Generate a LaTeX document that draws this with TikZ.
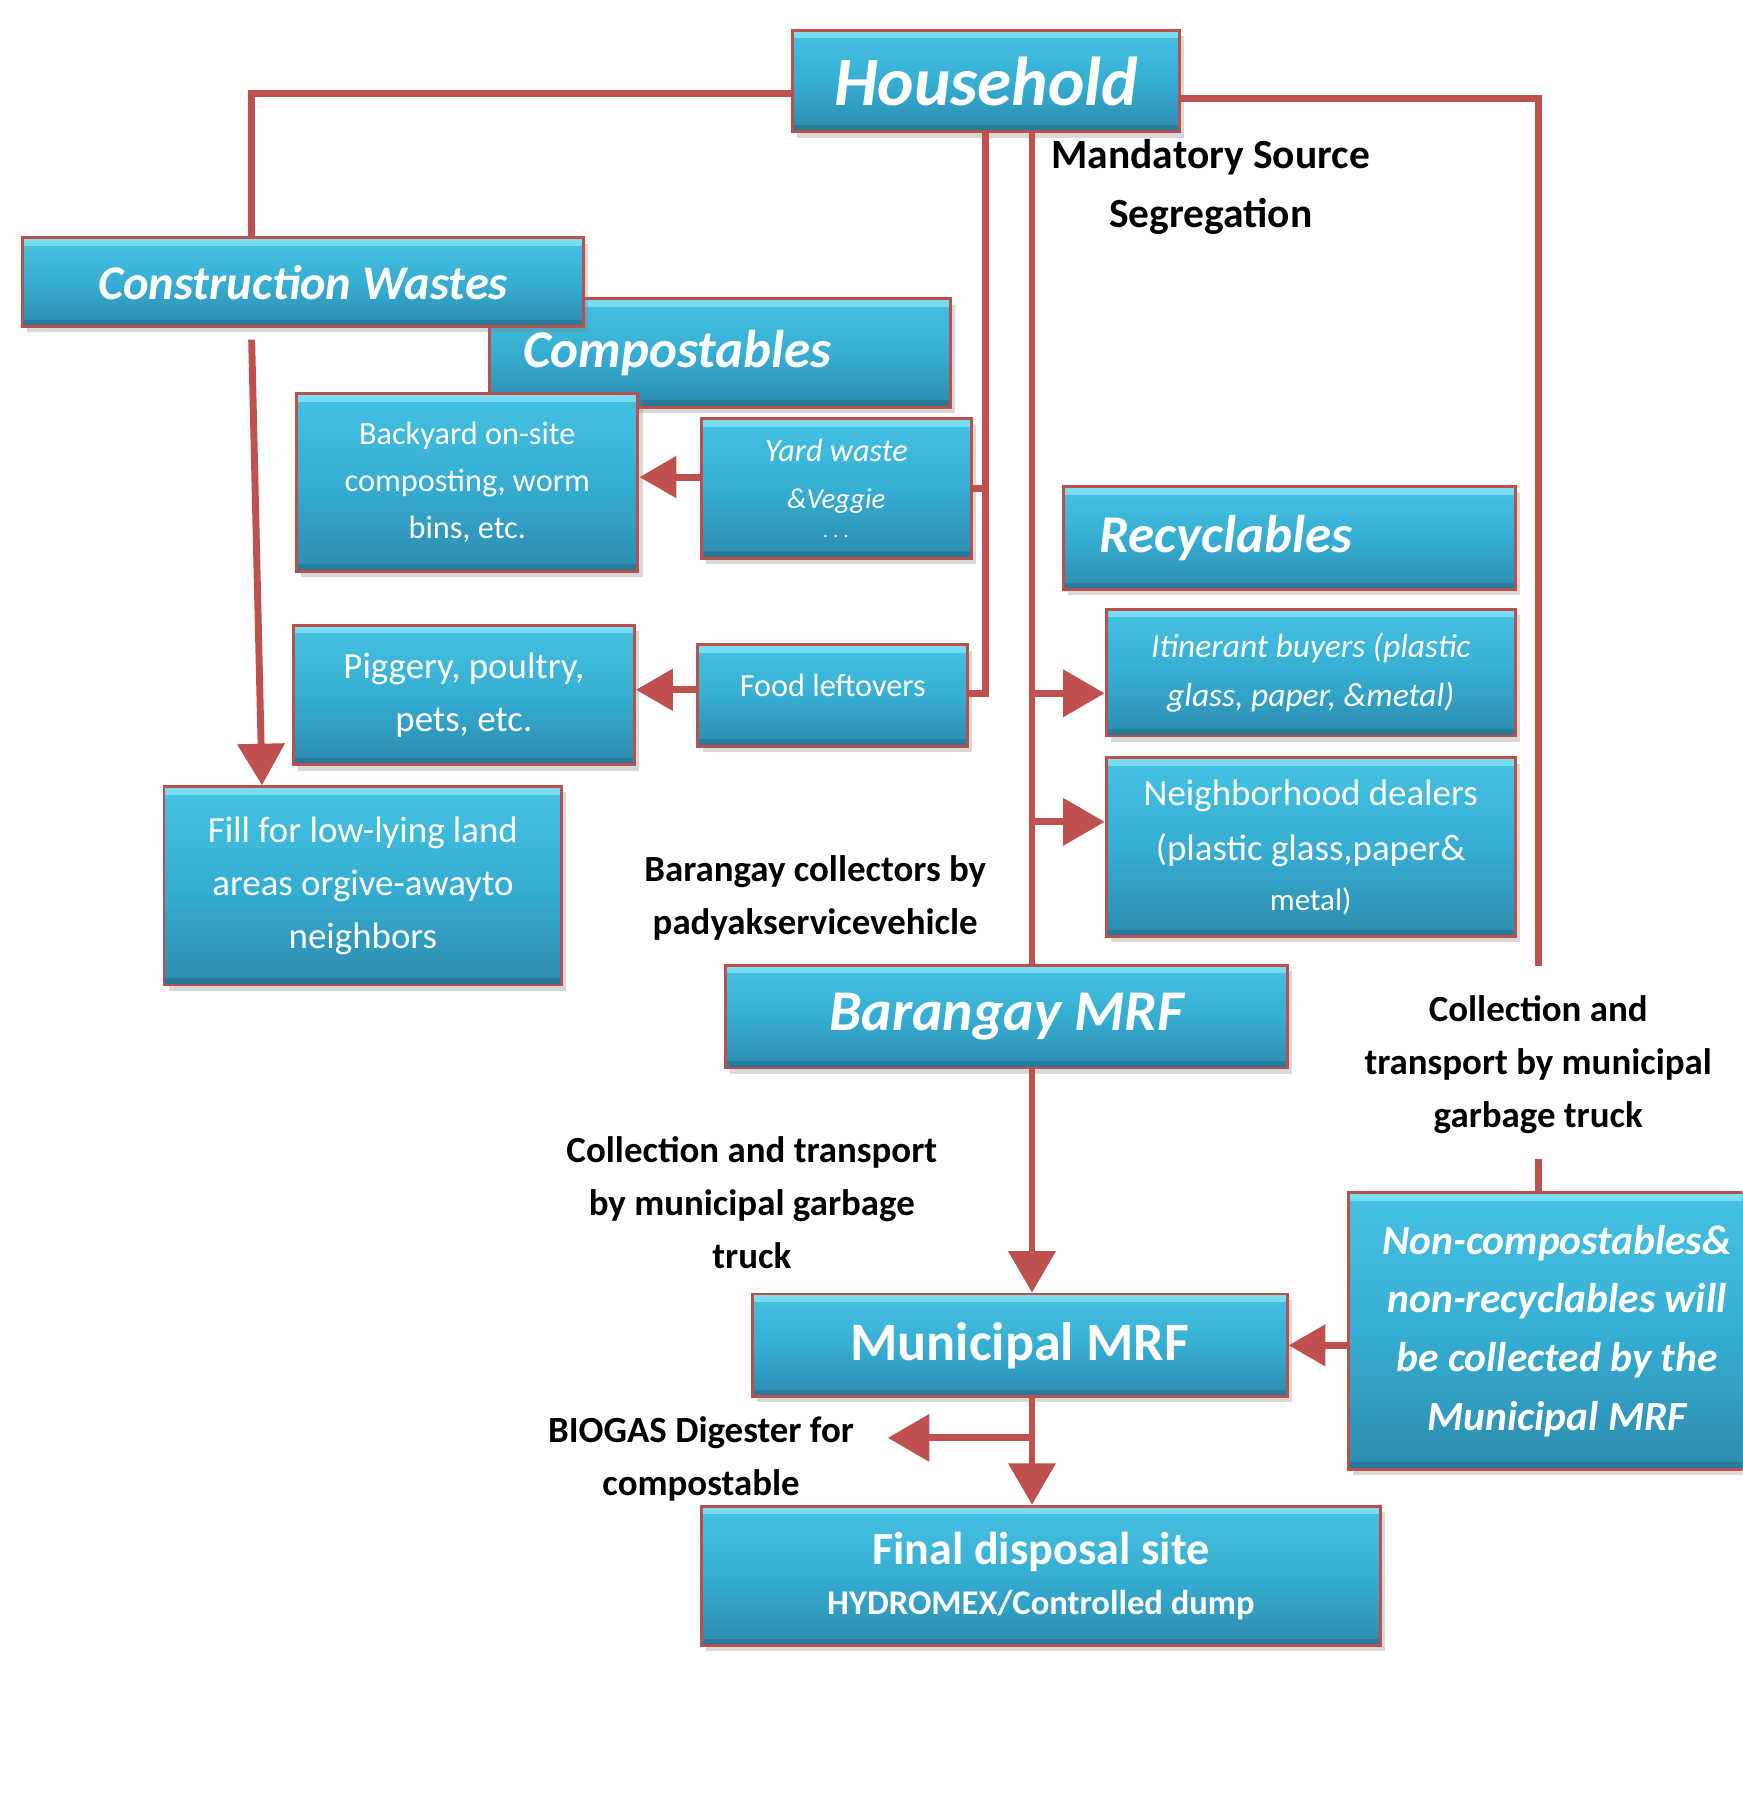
\documentclass[tikz,border=0pt]{standalone}
\usepackage{fontspec}
\setmainfont{Carlito}
\usetikzlibrary{arrows.meta,shadows,calc}
\definecolor{lnred}{HTML}{C0504D}
\definecolor{boxedge}{HTML}{B9504C}
\definecolor{boxtop}{HTML}{45C2E3}
\definecolor{boxmid}{HTML}{36AED3}
\definecolor{boxbot}{HTML}{2C8BAE}
\definecolor{boxhi}{HTML}{86E3F6}
\tikzset{
  box/.style={rectangle, anchor=north west, draw=boxedge, line width=2.5pt,
    top color=boxtop, bottom color=boxbot, middle color=boxmid,
    text=white, align=center, inner sep=0pt,
    drop shadow={shadow xshift=4pt, shadow yshift=-5pt, opacity=0.3},
    path picture={
      \fill[boxhi, opacity=0.8] (path picture bounding box.north west) rectangle ([yshift=-7pt]path picture bounding box.north east);
      \fill[black, opacity=0.12] (path picture bounding box.south west) rectangle ([yshift=6pt]path picture bounding box.south east);
    }},
  conn/.style={draw=lnred, line width=6pt},
  arr/.style={-{Triangle[length=36pt,width=40pt]}},
  arrs/.style={-{Triangle[length=32pt,width=35pt]}},
  lbl/.style={text=black, align=center, font=\bfseries\fontsize{32}{46}\selectfont, inner sep=0pt},
  bi/.style={font=\bfseries\itshape\fontsize{#1}{#1}\selectfont},
}
\begin{document}
\begin{tikzpicture}[x=1pt,y=-1pt]
\useasboundingbox (0,0) rectangle (1511,1568);
\clip (0,0) rectangle (1511,1568);
\fill[white] (0,0) rectangle (1511,1568);

% coordinates for vertical trunks
\coordinate (v1) at (855,0);
\coordinate (v2) at (895,0);

% boxes
\node[box, bi=46, minimum width=400pt, minimum height=94pt] (cp) at (423,258) {\mbox{Compostables\hspace{74pt}}};
\node[box, bi=42, minimum width=487pt, minimum height=77pt] (cw) at (18,205) {Construction Wastes};
\node[box, bi=60, minimum width=336pt, minimum height=88pt] (hh) at (686,25) {\raisebox{-4pt}{Household}};
\node[box, font=\fontsize{28}{41}\selectfont, minimum width=296pt, minimum height=154pt] (bk) at (256,340) {Backyard on-site\\composting, worm\\bins, etc.};
\node[box, font=\itshape\fontsize{28}{41}\selectfont, minimum width=234pt, minimum height=121pt] (yw) at (607,362) {Yard waste\\{\fontsize{25}{41}\selectfont\&Veggie}\\[-16pt]{\fontsize{16}{16}\selectfont . . .}};
\node[box, font=\fontsize{32}{46}\selectfont, minimum width=296pt, minimum height=121pt] (pg) at (253,541) {Piggery, poultry,\\pets, etc.};
\node[box, font=\fontsize{28}{41}\selectfont, minimum width=234pt, minimum height=88pt] (fl) at (604,558) {\raisebox{18pt}{Food leftovers}};
\node[box, font=\fontsize{32}{46}\selectfont, minimum width=345pt, minimum height=172pt] (fi) at (141,681) {Fill for low-lying land\\areas orgive-awayto\\neighbors};
\node[box, bi=46, minimum width=392pt, minimum height=89pt] (rc) at (921,421) {\mbox{Recyclables\hspace{110pt}}};
\node[box, font=\itshape\fontsize{29}{43}\selectfont, minimum width=355pt, minimum height=110pt] (it) at (958,527) {Itinerant buyers (plastic\\glass, paper, \&metal)};
\node[box, font=\fontsize{32}{48}\selectfont, minimum width=355pt, minimum height=155pt] (nd) at (958,656) {\raisebox{-5pt}{Neighborhood dealers}\\\raisebox{-5pt}{(plastic glass,paper\&}\\{\fontsize{27}{40}\selectfont metal)}};
\node[box, bi=50, minimum width=487pt, minimum height=89pt] (bm) at (628,836) {Barangay MRF};
\node[box, font=\bfseries\fontsize{47}{47}\selectfont, minimum width=464pt, minimum height=89pt] (mm) at (651,1121) {Municipal MRF};
\node[box, font=\bfseries\itshape\fontsize{36}{51}\selectfont, minimum width=362pt, minimum height=240pt] (nc) at (1168,1033) {\raisebox{5pt}{Non-compostables\&}\\\raisebox{5pt}{non-recyclables will}\\\raisebox{5pt}{be collected by the}\\\raisebox{5pt}{Municipal MRF}};
\node[box, font=\bfseries\fontsize{40}{44}\selectfont, minimum width=589pt, minimum height=121pt] (fd) at (607,1305) {Final disposal site\\{\fontsize{30}{44}\selectfont HYDROMEX/Controlled dump}};

% labels
\node[lbl, font=\bfseries\fontsize{36}{51}\selectfont] (ms) at (1050,162) {Mandatory Source\\Segregation};
\node[lbl] (bc) at (707,779) {Barangay collectors by\\padyakservicevehicle};
\node[lbl] (ct1) at (1334,923) {Collection and\\transport by municipal\\garbage truck};
\node[lbl] (ct2) at (652,1043) {Collection and transport\\by municipal garbage\\truck};
\node[lbl] (bg) at (608,1265) {BIOGAS Digester for\\compostable};

% junction / free-end coordinates
\coordinate (c1) at (1334,838);
\coordinate (c2) at (1334,1005);
\coordinate (bgtip) at (770,1247);
\coordinate (ita) at ([yshift=-18pt]it.west);
\coordinate (nda) at ([yshift=22pt]nd.west);
\coordinate (ywa) at ([yshift=10pt]yw.west);
\coordinate (fla) at ([yshift=5pt]fl.west);
\coordinate (cws) at ([xshift=-44.5pt,yshift=-10pt]cw.south);
\coordinate (fin) at ([xshift=-87.5pt]fi.north);
\coordinate (hhw) at ([yshift=-11pt]hh.west);
\coordinate (hhe) at ([yshift=-15pt]hh.east);
\coordinate (cwn) at ([xshift=-44.5pt]cw.north);
\coordinate (fle) at ([yshift=2pt]fl.east);

% connectors
\draw[conn] (hhw) -| (cwn);
\draw[conn] (hhe) -| (c1);
\draw[conn] (c2) -- (c2 |- nc.north);
\draw[conn] (hh.south -| v1) |- (fle);
\draw[conn] (yw.east) -- (yw.east -| v1);
\draw[conn] (hh.south -| v2) -- (bm.north -| v2);
\draw[conn, arr] (v2 |- ita) -- (ita);
\draw[conn, arr] (v2 |- nda) -- (nda);
\draw[conn, arrs] (ywa) -- (ywa -| bk.east);
\draw[conn, arrs] (fla) -- (fla -| pg.east);
\draw[conn, arr] (cws) -- (fin);
\draw[conn, arr] (bm.south -| v2) -- (mm.north -| v2);
\draw[conn, arrs] (nc.west |- mm.east) -- (mm.east);
\draw[conn, arr] (mm.south -| v2) -- (fd.north -| v2);
\draw[conn, arr] (v2 |- bgtip) -- (bgtip);
\end{tikzpicture}
\end{document}
